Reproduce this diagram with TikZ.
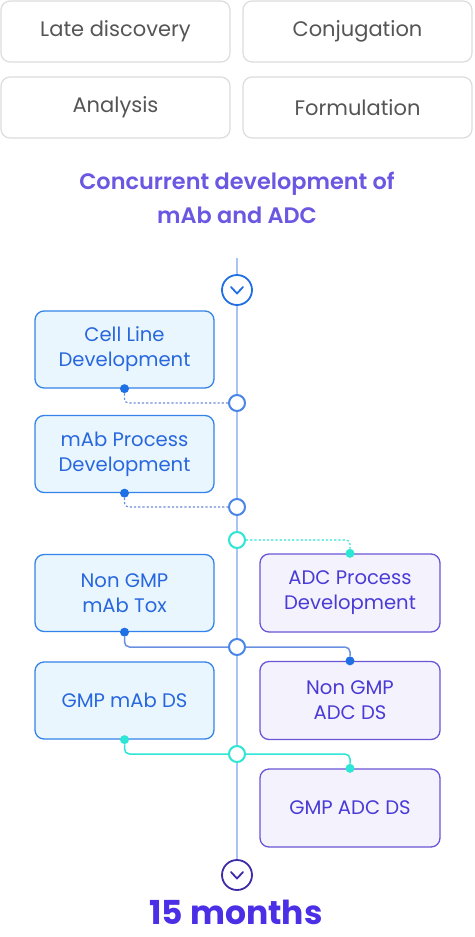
\documentclass[tikz,border=0pt]{standalone}
\usepackage{fontspec}
\setmainfont{Poppins}
\newfontfamily\titlef{Poppins}[UprightFont={* SemiBold}]
\newfontfamily\boldf{Poppins}[UprightFont={* Bold}]
\usetikzlibrary{positioning}
\definecolor{graybord}{HTML}{DDDDDD}
\definecolor{graytext}{HTML}{555555}
\definecolor{titlecol}{HTML}{6A58E2}
\definecolor{tline}{HTML}{A9C3F7}
\definecolor{dotblue}{HTML}{1F6FE5}
\definecolor{leftfill}{HTML}{E9F6FE}
\definecolor{leftbord}{HTML}{3483EA}
\definecolor{lefttext}{HTML}{2867DE}
\definecolor{rightfill}{HTML}{F4F3FD}
\definecolor{rightbord}{HTML}{6B55D6}
\definecolor{righttext}{HTML}{4A3BD6}
\definecolor{cyanc}{HTML}{2EE6D6}
\definecolor{dotline}{HTML}{6C8BD8}
\definecolor{solidline}{HTML}{6A90E2}
\definecolor{circblue}{HTML}{4A86EA}
\definecolor{endcirc}{HTML}{3D2BA8}
\definecolor{monthcol}{HTML}{4B2FE6}
\tikzset{
  x=1pt,y=-1pt,
  topbox/.style={draw=graybord,line width=1.2pt,rounded corners=9pt,fill=white,
    minimum width=229pt,minimum height=61pt,text=graytext,font=\fontsize{21}{26}\selectfont,inner sep=0pt},
  leftbox/.style={draw=leftbord,line width=1.3pt,rounded corners=9pt,fill=leftfill,
    minimum width=179pt,minimum height=77pt,text=lefttext,align=center,
    font=\fontsize{19.6}{25}\selectfont,inner sep=0pt},
  rightbox/.style={draw=rightbord,line width=1.3pt,rounded corners=9pt,fill=rightfill,
    minimum width=180pt,minimum height=78pt,text=righttext,align=center,
    font=\fontsize{19.6}{25}\selectfont,inner sep=0pt},
  tcirc/.style={circle,draw=#1,line width=2pt,fill=white,minimum size=16pt,inner sep=0pt},
  bigcirc/.style={circle,draw=#1,line width=1.8pt,fill=white,minimum size=30pt,inner sep=0pt},
  pdot/.style={circle,fill=#1,minimum size=9pt,inner sep=0pt},
  dotconn/.style={draw=#1,line width=1.1pt,dash pattern=on 2.2pt off 2pt,rounded corners=4pt},
  solconn/.style={draw=#1,line width=1.5pt,rounded corners=5pt},
}
\begin{document}
\begin{tikzpicture}
\useasboundingbox (0,0) rectangle (474,937);
\fill[white] (0,0) rectangle (474,937);
% top boxes
\node[topbox] (late) at (115.5,31.5) {Late discovery};
\node[topbox] (conj) at (357.5,31.5) {Conjugation};
\node[topbox] (anal) at (115.5,107.5) {Analysis};
\node[topbox] (form) at (357.5,107.5) {Formulation};
% title
\node[text=titlecol,font=\titlef\fontsize{22.4}{34}\selectfont,align=center] (title) at (237,198)
  {Concurrent development of\\mAb and ADC};
% timeline
\coordinate (tltop) at (237,258);
\node[bigcirc=dotblue] (start) at (237,290) {};
\node[bigcirc=endcirc] (finish) at (237,875) {};
\draw[tline,line width=2.2pt] (tltop) -- (start.north);
\draw[tline,line width=2.2pt] (start.south) -- (finish.north);
\draw[dotblue,line width=1.8pt,line cap=round,line join=round] (231,287) -- (237,293.5) -- (243,287);
\draw[endcirc,line width=1.8pt,line cap=round,line join=round] (231,872) -- (237,878.5) -- (243,872);
% boxes
\node[leftbox] (cell) at (124.5,349.5) {Cell Line\\Development};
\node[leftbox] (mproc) at (124.5,454) {mAb Process\\Development};
\node[leftbox] (ntox) at (124.5,593) {Non GMP\\mAb Tox};
\node[leftbox] (gmab) at (124.5,700.5) {GMP mAb DS};
\node[rightbox] (aproc) at (350,593) {ADC Process\\Development};
\node[rightbox] (nadc) at (350,700.5) {Non GMP\\ADC DS};
\node[rightbox] (gadc) at (350,808) {GMP ADC DS};
% timeline circles
\node[tcirc=circblue] (c1) at (237,403) {};
\node[tcirc=circblue] (c2) at (237,507) {};
\node[tcirc=cyanc] (c3) at (237,540) {};
\node[tcirc=circblue] (c4) at (237,647) {};
\node[tcirc=cyanc] (c5) at (237,754) {};
% dots
\node[pdot=dotblue] (d1) at (cell.south) {};
\node[pdot=dotblue] (d2) at (mproc.south) {};
\node[pdot=cyanc] (d3) at (aproc.north) {};
\node[pdot=dotblue] (d4) at (ntox.south) {};
\node[pdot=dotblue] (d5) at (nadc.north) {};
\node[pdot=cyanc] (d6) at (gmab.south) {};
\node[pdot=cyanc] (d7) at (gadc.north) {};
% connectors
\draw[dotconn=dotline] (d1.south) |- (c1.west);
\draw[dotconn=dotline] (d2.south) |- (c2.west);
\draw[dotconn=cyanc] (c3.east) -| (d3.north);
\draw[solconn=solidline] (d4.south) |- (c4.west);
\draw[solconn=solidline] (c4.east) -| (d5.north);
\draw[solconn=cyanc] (d6.south) |- (c5.west);
\draw[solconn=cyanc] (c5.east) -| (d7.north);
% 15 months
\node[anchor=base,text=monthcol,font=\boldf\fontsize{33}{40}\selectfont,inner sep=0pt] (months) at (236,924) {15 months};
\end{tikzpicture}
\end{document}
